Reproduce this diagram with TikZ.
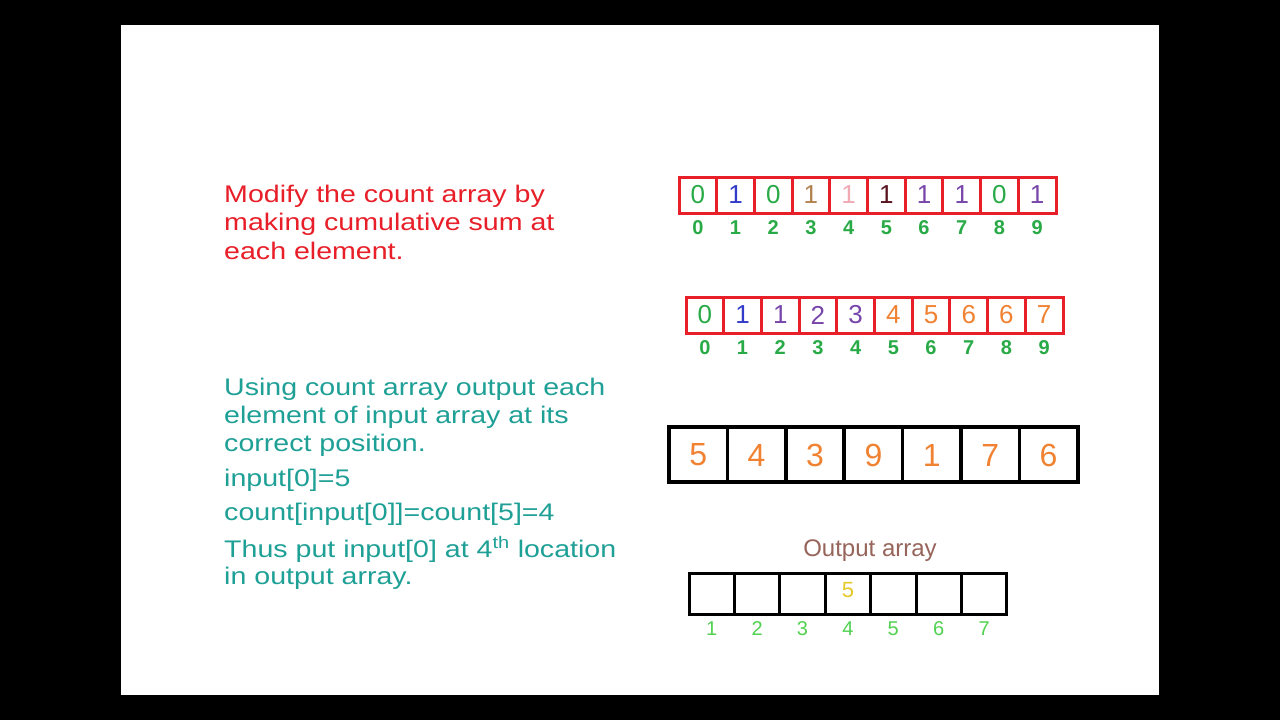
\documentclass[tikz,border=0pt]{standalone}
\usepackage{fontspec}
\setmainfont{Liberation Sans}
\definecolor{tred}{RGB}{232,30,40}
\definecolor{tteal}{RGB}{30,160,150}
\definecolor{cgreen}{RGB}{40,170,70}
\definecolor{lgreen}{RGB}{80,210,80}
\definecolor{cblue}{RGB}{50,60,200}
\definecolor{cpurple}{RGB}{120,70,170}
\definecolor{ctan}{RGB}{180,130,80}
\definecolor{cpink}{RGB}{240,170,180}
\definecolor{cdark}{RGB}{90,20,30}
\definecolor{corange}{RGB}{240,130,50}
\definecolor{cbrown}{RGB}{150,100,90}
\definecolor{cyellow}{RGB}{230,200,40}
\begin{document}
\begin{tikzpicture}[x=1pt,y=-1pt,
  lefttext/.style={anchor=west,font=\fontsize{24}{26}\selectfont,inner sep=0pt,xscale=1.19},
  dig/.style={font=\fontsize{26}{28}\selectfont,inner sep=0pt},
  idx/.style={font=\fontsize{20}{22}\selectfont\bfseries,text=cgreen,inner sep=0pt}]
\fill[black] (0,0) rectangle (1280,720);
\fill[white] (121,25) rectangle (1159,695);
% red text
\node[lefttext,text=tred] (r1) at (224,196) {Modify the count array by};
\node[lefttext,text=tred] (r2) at (224,224) {making cumulative sum at};
\node[lefttext,text=tred] (r3) at (224,251) {each element.};
% teal text
\node[lefttext,text=tteal] (t1) at (224,389) {Using count array output each};
\node[lefttext,text=tteal] (t2) at (224,417) {element of input array at its};
\node[lefttext,text=tteal] (t3) at (224,445) {correct position.};
\node[lefttext,text=tteal] (t4) at (224,480) {input[0]=5};
\node[lefttext,text=tteal] (t5) at (224,514) {count[input[0]]=count[5]=4};
\node[lefttext,text=tteal] (t6) at (224,549) {Thus put input[0] at 4\textsuperscript{th} location};
\node[lefttext,text=tteal] (t7) at (224,578) {in output array.};
% array 1
\foreach \v/\c [count=\i from 0] in {0/cgreen,1/cblue,0/cgreen,1/ctan,1/cpink,1/cdark,1/cpurple,1/cpurple,0/cgreen,1/cpurple}{
  \draw[tred,line width=3pt] (679+\i*37.7,177) rectangle (679+\i*37.7+37.7,213);
  \node[dig,text=\c] (a\i) at (679+\i*37.7+18.85,195) {\v};
  \node[idx] (ai\i) at (679+\i*37.7+18.85,228) {\i};
}
% array 2
\foreach \v/\c [count=\i from 0] in {0/cgreen,1/cblue,1/cpurple,2/cpurple,3/cpurple,4/corange,5/corange,6/corange,6/corange,7/corange}{
  \draw[tred,line width=3pt] (686+\i*37.7,297) rectangle (686+\i*37.7+37.7,333);
  \node[dig,text=\c] (b\i) at (686+\i*37.7+18.85,315) {\v};
  \node[idx] (bi\i) at (686+\i*37.7+18.85,348) {\i};
}
% input array
\foreach \v [count=\i from 0] in {5,4,3,9,1,7,6}{
  \draw[black,line width=3.5pt] (669+\i*58.4,427) rectangle (669+\i*58.4+58.4,482);
  \node[dig,text=corange,font=\fontsize{32}{34}\selectfont] (c\i) at (669+\i*58.4+29.2,455) {\v};
}
% output array
\node[font=\fontsize{24}{26}\selectfont,text=cbrown] (ot) at (870,551) {Output array};
\foreach \i in {0,...,6}{
  \draw[black,line width=3pt] (689+\i*45.4,573) rectangle (689+\i*45.4+45.4,614);
  \node[idx,text=lgreen,font=\fontsize{20}{22}\selectfont] (oi\i) at (689+\i*45.4+22.7,629) {\pgfmathparse{int(\i+1)}\pgfmathresult};
}
\node[dig,text=cyellow,font=\fontsize{22}{24}\selectfont] (o5) at (689+3*45.4+22.7,590) {5};
\end{tikzpicture}
\end{document}
